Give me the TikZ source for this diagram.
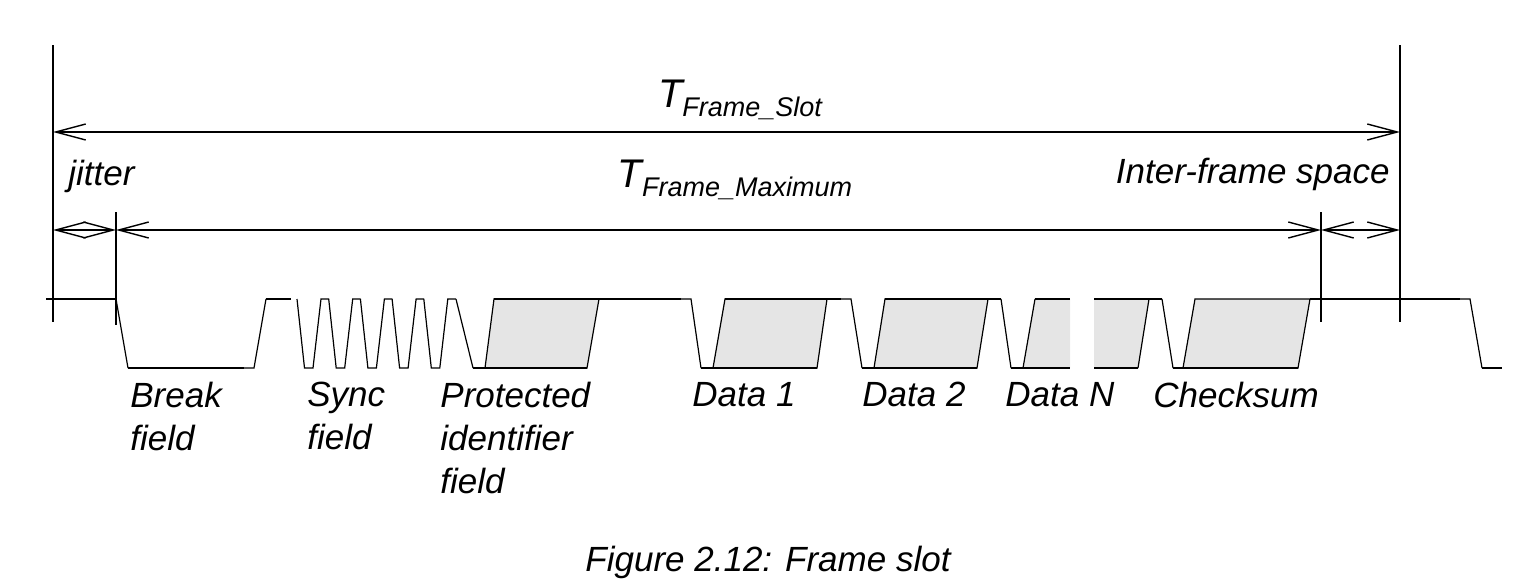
\documentclass[tikz,border=0pt]{standalone}
\usepackage{fontspec}
\setmainfont{Liberation Sans}
\usetikzlibrary{arrows.meta}
\tikzset{
  lbl/.style={anchor=north west,align=left,inner sep=0pt,font=\fontsize{17.5}{21.5}\selectfont\itshape},
  tick/.style={line width=0.9pt},
  dim/.style={line width=0.7pt,{Straight Barb[length=15pt,width=8pt]}-{Straight Barb[length=15pt,width=8pt]}},
  sig/.style={line width=1.1pt},
  edge/.style={line width=0.6pt},
  field/.style={fill=black!10,line width=0.6pt}
}
\newcommand{\Tsub}[1]{{\fontsize{20}{20}\selectfont\itshape T\raisebox{-0.45ex}{\fontsize{13.5}{14}\selectfont #1}}}
\begin{document}
\begin{tikzpicture}[x=0.5pt,y=-0.5pt]
  \useasboundingbox (0,0) rectangle (1520,584);

  % time marks
  \coordinate (s0) at (53,45);   \coordinate (s1) at (1400,45);
  \coordinate (m0) at (116,212); \coordinate (m1) at (1321,212);
  \draw[tick] (s0) -- (53,322);
  \draw[tick] (s1) -- (1400,322);
  \draw[tick] (m0) -- (116,325);
  \draw[tick] (m1) -- (1321,322);

  \coordinate (a0) at (53,132);  \coordinate (a1) at (1400,132);
  \coordinate (b0) at (53,230);  \coordinate (b1) at (116,230);
  \coordinate (b2) at (1321,230); \coordinate (b3) at (1400,230);
  \draw[dim] (a0) -- (a1);
  \draw[dim] (b0) -- (b1);
  \draw[dim] (b1) -- (b2);
  \draw[dim] (b2) -- (b3);

  \node (slot) at (740,100) {\Tsub{Frame\_Slot}};
  \node (maxi) at (735,180) {\Tsub{Frame\_Maximum}};
  \node[lbl] (jit) at (68,160) {jitter};
  \node[lbl,anchor=north east] (ifs) at (1390,158) {Inter-frame space};

  % break and sync
  \draw[sig] (46,299) -- (116,299);
  \draw[edge] (116,299) -- (128,368);
  \draw[sig] (128,368) -- (244,368);
  \draw[edge] (244,368) -- (254,368) -- (266,299);
  \draw[sig] (266,299) -- (291,299);
  \foreach \x in {0,1,2,3,4} {
    \draw[edge] ({297+31.7*\x},299) -- ({304.5+31.7*\x},368) -- ({313+31.7*\x},368) -- ({321+31.7*\x},299) -- ({329+31.7*\x},299);
  }
  \draw[edge] (456,299) -- (473,368);
  \draw[sig] (473,368) -- (485,368);

  % byte fields
  \draw[field] (485,368) -- (494,299) -- (599,299) -- (587,368) -- cycle;
  \draw[sig] (494,299) -- (599,299) -- (681,299);
  \draw[sig] (485,368) -- (587,368);
  \draw[edge] (681,299) -- (691,299) -- (701,368);
  \draw[sig] (701,368) -- (713,368);
  \draw[field] (713,368) -- (725,299) -- (827,299) -- (817,368) -- cycle;
  \draw[sig] (713,368) -- (817,368);
  \draw[sig] (725,299) -- (841,299);
  \draw[edge] (841,299) -- (851,299) -- (862,368);
  \draw[sig] (862,368) -- (874,368);
  \draw[field] (874,368) -- (885,299) -- (988,299) -- (977,368) -- cycle;
  \draw[sig] (874,368) -- (977,368);
  \draw[sig] (885,299) -- (1001,299);
  \draw[edge] (1001,299) -- (1011,368);
  \draw[sig] (1011,368) -- (1023,368);
  \fill[black!10] (1023,368) -- (1035,299) -- (1070,299) -- (1070,368) -- cycle;
  \draw[edge] (1023,368) -- (1035,299);
  \draw[sig] (1023,368) -- (1070,368);
  \draw[sig] (1035,299) -- (1070,299);
  \fill[black!10] (1094,299) -- (1149,299) -- (1138,368) -- (1094,368) -- cycle;
  \draw[edge] (1149,299) -- (1138,368);
  \draw[sig] (1094,368) -- (1138,368);
  \draw[sig] (1094,299) -- (1162,299);
  \draw[edge] (1162,299) -- (1173,368);
  \draw[sig] (1173,368) -- (1183,368);
  \draw[field] (1183,368) -- (1195,299) -- (1310,299) -- (1298,368) -- cycle;
  \draw[sig] (1183,368) -- (1298,368);
  \draw[sig] (1310,299) -- (1460,299);
  \draw[edge] (1460,299) -- (1470,299) -- (1482,368);
  \draw[sig] (1482,368) -- (1502,368);

  % field names
  \node[lbl] (brk) at (130,382) {Break\\field};
  \node[lbl] (syn) at (307,382) {Sync\\field};
  \node[lbl] (pid) at (440,382) {Protected\\identifier\\field};
  \node[lbl] (d1) at (692,382) {Data 1};
  \node[lbl] (d2) at (862,382) {Data 2};
  \node[lbl] (dn) at (1005,382) {Data N};
  \node[lbl] (chk) at (1153,382) {Checksum};

  \node[lbl,anchor=center] (cap) at (768,562) {Figure 2.12: Frame slot};
\end{tikzpicture}
\end{document}
